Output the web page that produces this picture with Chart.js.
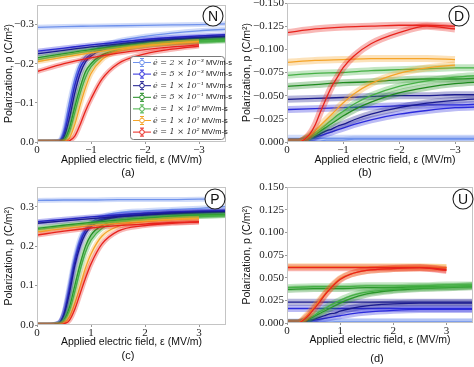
<!DOCTYPE html>
<html>
<head>
<meta charset="utf-8">
<script src="https://cdn.jsdelivr.net/npm/chart.js@4.4.1/dist/chart.umd.min.js"></script>
<style>
  html, body { margin: 0; padding: 0; background: #fff; width: 474px; height: 367px; overflow: hidden; }
  canvas { position: absolute; }
</style>
</head>
<body>
<canvas id="chartN" width="237" height="183" style="left:0;top:0"></canvas>
<canvas id="chartD" width="250" height="183" style="left:237px;top:0"></canvas>
<canvas id="chartP" width="237" height="184" style="left:0;top:183px"></canvas>
<canvas id="chartU" width="250" height="184" style="left:237px;top:183px"></canvas>
<script>
// loading rates (legend text), shared by all four panels
const rateLabels = ['2 × 10⁻³', '5 × 10⁻³', '1 × 10⁻¹', '5 × 10⁻¹', '1 × 10⁰', '1 × 10¹', '1 × 10²'];
const seriesColors = ['#6f92ec', '#2b2bdc', '#1b1b8e', '#1f8a1f', '#45b045', '#f5a428', '#e8231c'];

// applied field magnitude (MV/m) for the loading and unloading branches
const loadField = [0, 0.2, 0.4, 0.5, 0.6, 0.7, 0.8, 0.9, 1.0, 1.2, 1.5, 2.0, 2.5, 3.0, 3.5];
const unloadField = [0, 0.5, 1.0, 1.5, 2.0, 2.5, 3.0, 3.5];

// (a) N - polarization, C/m^2
const nLoad = [
  [0, 0, -0.002, -0.03, -0.1, -0.16, -0.2, -0.22, -0.232, -0.245, -0.258, -0.27, -0.278, -0.284, -0.288],
  [0, 0, -0.001, -0.02, -0.08, -0.145, -0.19, -0.212, -0.225, -0.238, -0.248, -0.258, -0.264, -0.268, -0.27],
  [0, 0, 0, -0.012, -0.06, -0.125, -0.175, -0.205, -0.22, -0.235, -0.245, -0.255, -0.261, -0.265, -0.268],
  [0, 0, 0, -0.005, -0.035, -0.09, -0.14, -0.18, -0.2, -0.222, -0.236, -0.247, -0.253, -0.257, -0.26],
  [0, 0, 0, -0.003, -0.025, -0.075, -0.125, -0.165, -0.192, -0.218, -0.235, -0.246, -0.252, -0.256, -0.258],
  [0, 0, 0, -0.001, -0.01, -0.045, -0.095, -0.14, -0.175, -0.21, -0.232, -0.245, -0.252, -0.256, null],
  [0, 0, 0, 0, -0.003, -0.015, -0.045, -0.08, -0.11, -0.16, -0.2, -0.225, -0.237, -0.245, null]
];
const nUnload = [
  [-0.293, -0.295, -0.296, -0.297, -0.298, -0.299, -0.3, -0.302],
  [-0.232, -0.24, -0.248, -0.255, -0.262, -0.267, -0.271, -0.274],
  [-0.225, -0.234, -0.243, -0.25, -0.257, -0.262, -0.266, -0.27],
  [-0.215, -0.226, -0.236, -0.244, -0.251, -0.256, -0.26, -0.263],
  [-0.21, -0.222, -0.233, -0.242, -0.249, -0.254, -0.258, -0.261],
  [-0.205, -0.217, -0.228, -0.238, -0.246, -0.252, -0.257, null],
  [-0.18, -0.2, -0.215, -0.227, -0.236, -0.243, -0.248, null]
];

// (b) D
const dLoad = [
  [0, 0, -0.001, -0.001, -0.001, -0.002, -0.002, -0.002, -0.002, -0.003, -0.003, -0.003, -0.003, -0.003, -0.003],
  [0, 0, -0.003, -0.005, -0.007, -0.009, -0.011, -0.013, -0.015, -0.019, -0.024, -0.03, -0.034, -0.037, -0.038],
  [0, 0, -0.004, -0.006, -0.009, -0.012, -0.014, -0.017, -0.019, -0.024, -0.03, -0.037, -0.042, -0.045, -0.047],
  [0, 0, -0.005, -0.008, -0.012, -0.016, -0.02, -0.024, -0.028, -0.035, -0.043, -0.053, -0.059, -0.063, -0.065],
  [0, 0, -0.006, -0.01, -0.014, -0.019, -0.024, -0.029, -0.033, -0.041, -0.05, -0.06, -0.066, -0.07, -0.072],
  [0, 0, -0.007, -0.012, -0.018, -0.024, -0.03, -0.036, -0.042, -0.052, -0.063, -0.074, -0.08, -0.083, null],
  [0, 0, -0.008, -0.018, -0.033, -0.047, -0.06, -0.07, -0.08, -0.093, -0.106, -0.118, -0.125, -0.122, null]
];
const dUnload = [
  [-0.004, -0.004, -0.004, -0.004, -0.004, -0.004, -0.004, -0.004],
  [-0.035, -0.036, -0.037, -0.038, -0.039, -0.04, -0.04, -0.041],
  [-0.046, -0.047, -0.048, -0.049, -0.05, -0.05, -0.051, -0.051],
  [-0.06, -0.062, -0.064, -0.065, -0.067, -0.068, -0.068, -0.069],
  [-0.072, -0.074, -0.075, -0.077, -0.078, -0.079, -0.08, -0.08],
  [-0.086, -0.088, -0.089, -0.09, -0.09, -0.09, -0.089, null],
  [-0.118, -0.122, -0.124, -0.125, -0.126, -0.126, -0.125, null]
];

// (c) P
const pLoad = [
  [0, 0, 0.003, 0.03, 0.1, 0.17, 0.22, 0.245, 0.26, 0.275, 0.285, 0.29, 0.293, 0.296, 0.3],
  [0, 0, 0.005, 0.03, 0.09, 0.16, 0.21, 0.24, 0.255, 0.268, 0.277, 0.283, 0.286, 0.288, 0.289],
  [0, 0, 0.004, 0.025, 0.08, 0.15, 0.2, 0.232, 0.25, 0.265, 0.274, 0.28, 0.284, 0.286, 0.287],
  [0, 0, 0.003, 0.012, 0.045, 0.1, 0.155, 0.2, 0.228, 0.252, 0.264, 0.271, 0.276, 0.279, 0.28],
  [0, 0, 0.002, 0.01, 0.035, 0.085, 0.14, 0.185, 0.215, 0.245, 0.26, 0.268, 0.273, 0.276, 0.278],
  [0, 0, 0.001, 0.005, 0.02, 0.055, 0.1, 0.145, 0.18, 0.225, 0.25, 0.262, 0.268, 0.271, null],
  [0, 0, 0, 0.003, 0.012, 0.04, 0.08, 0.12, 0.155, 0.205, 0.238, 0.252, 0.258, 0.261, null]
];
const pUnload = [
  [0.316, 0.317, 0.317, 0.318, 0.318, 0.318, 0.319, 0.319],
  [0.262, 0.268, 0.274, 0.279, 0.283, 0.286, 0.288, 0.29],
  [0.258, 0.264, 0.27, 0.275, 0.279, 0.282, 0.285, 0.287],
  [0.245, 0.253, 0.26, 0.266, 0.271, 0.275, 0.278, 0.28],
  [0.242, 0.25, 0.257, 0.263, 0.268, 0.272, 0.275, 0.278],
  [0.236, 0.245, 0.252, 0.258, 0.263, 0.267, 0.27, null],
  [0.228, 0.238, 0.246, 0.252, 0.256, 0.26, 0.262, null]
];

// (d) U
const uLoad = [
  [0, 0, 0, 0, 0, 0, 0, 0.001, 0.001, 0.001, 0.001, 0.001, 0.001, 0.001, 0.001],
  [0, 0, 0.002, 0.003, 0.004, 0.005, 0.006, 0.007, 0.008, 0.01, 0.012, 0.014, 0.015, 0.015, 0.015],
  [0, 0, 0.003, 0.004, 0.006, 0.008, 0.01, 0.011, 0.013, 0.016, 0.019, 0.021, 0.022, 0.022, 0.022],
  [0, 0, 0.004, 0.007, 0.01, 0.013, 0.016, 0.019, 0.022, 0.027, 0.032, 0.036, 0.038, 0.039, 0.04],
  [0, 0, 0.005, 0.008, 0.012, 0.015, 0.019, 0.022, 0.025, 0.03, 0.034, 0.037, 0.039, 0.04, 0.041],
  [0, 0, 0.01, 0.017, 0.024, 0.031, 0.038, 0.044, 0.049, 0.054, 0.058, 0.06, 0.061, 0.061, null],
  [0, 0, 0.008, 0.015, 0.022, 0.03, 0.037, 0.043, 0.048, 0.054, 0.058, 0.06, 0.061, 0.058, null]
];
const uUnload = [
  [0.001, 0.001, 0.001, 0.001, 0.001, 0.001, 0.001, 0.001],
  [0.016, 0.016, 0.016, 0.016, 0.016, 0.016, 0.016, 0.016],
  [0.023, 0.023, 0.023, 0.023, 0.023, 0.023, 0.023, 0.023],
  [0.037, 0.038, 0.038, 0.039, 0.039, 0.04, 0.04, 0.041],
  [0.039, 0.04, 0.04, 0.041, 0.041, 0.041, 0.042, 0.042],
  [0.062, 0.062, 0.062, 0.062, 0.062, 0.062, 0.061, null],
  [0.061, 0.061, 0.061, 0.061, 0.061, 0.061, 0.059, null]
];

function rgba(hex, a) {
  const n = parseInt(hex.slice(1), 16);
  return `rgba(${n >> 16},${(n >> 8) & 255},${n & 255},${a})`;
}

// later rates are drawn on top (lower "order" is drawn last in Chart.js)
function buildDatasets(load, unload, sign, band) {
  const ds = [];
  seriesColors.forEach((c, i) => {
    [[loadField, load[i]], [unloadField, unload[i]]].forEach(([field, vals]) => {
      const pts = field.map((f, k) => ({ x: sign * f, y: vals[k] }));
      ds.push({ data: pts, borderColor: rgba(c, 0.32), borderWidth: band, pointRadius: 0,
                cubicInterpolationMode: 'monotone', order: 100 - i * 2 });
      ds.push({ data: pts, borderColor: c, borderWidth: 1.3, pointRadius: 0,
                cubicInterpolationMode: 'monotone', order: 99 - i * 2 });
    });
  });
  return ds;
}

const fmt = dec => v => (Math.abs(v) < 1e-9 ? 0 : v).toFixed(dec).replace('-', '\u2212');

// gray frame round the plot area
const framePlugin = {
  id: 'frame',
  afterDatasetsDraw(chart) {
    const { ctx, chartArea: a } = chart;
    ctx.save();
    ctx.strokeStyle = '#c4c4c4';
    ctx.lineWidth = 1;
    ctx.strokeRect(a.left + 0.5, a.top + 0.5, a.right - a.left - 1, a.bottom - a.top - 1);
    ctx.restore();
  }
};

// circled letter, (a)-(d) caption and the in-plot legend of panel (a)
const decoPlugin = {
  id: 'deco',
  afterDraw(chart, args, o) {
    const ctx = chart.ctx;
    ctx.save();
    ctx.beginPath();
    ctx.arc(o.cx, o.cy, 10, 0, Math.PI * 2);
    ctx.fillStyle = '#fff';
    ctx.fill();
    ctx.strokeStyle = '#222';
    ctx.lineWidth = 1.1;
    ctx.stroke();
    ctx.fillStyle = '#111';
    ctx.font = '14px "Liberation Sans"';
    ctx.textAlign = 'center';
    ctx.textBaseline = 'middle';
    ctx.fillText(o.letter, o.cx, o.cy + 1);
    ctx.font = '11px "Liberation Sans"';
    ctx.fillText(o.caption, o.capX, o.capY);
    if (o.legend) drawLegend(ctx, o.legend);
    ctx.restore();
  }
};

function drawLegend(ctx, L) {
  ctx.beginPath();
  ctx.roundRect(L.x + 0.5, L.y + 0.5, L.w, L.h, 3);
  ctx.fillStyle = 'rgba(255,255,255,0.92)';
  ctx.fill();
  ctx.strokeStyle = '#7a7a7a';
  ctx.lineWidth = 1;
  ctx.stroke();
  ctx.textAlign = 'left';
  ctx.textBaseline = 'middle';
  rateLabels.forEach((lab, i) => {
    const y = L.y + 6.5 + i * 11.6;
    const c = seriesColors[i];
    const mx = L.x + 12;
    ctx.strokeStyle = c;
    ctx.lineWidth = 1;
    ctx.beginPath();
    ctx.moveTo(L.x + 3, y); ctx.lineTo(L.x + 21, y);
    ctx.moveTo(mx, y - 4); ctx.lineTo(mx, y + 4);
    ctx.moveTo(mx - 2, y - 4); ctx.lineTo(mx + 2, y - 4);
    ctx.moveTo(mx - 2, y + 4); ctx.lineTo(mx + 2, y + 4);
    ctx.stroke();
    ctx.beginPath();
    ctx.arc(mx, y, 2.3, 0, Math.PI * 2);
    ctx.fillStyle = '#fff';
    ctx.fill();
    ctx.stroke();
    ctx.fillStyle = '#333';
    ctx.font = 'italic 8px "DejaVu Serif"';
    const t1 = 'ė = ' + lab;
    ctx.fillText(t1, L.x + 23, y);
    const w = ctx.measureText(t1).width;
    ctx.font = '7.5px "Liberation Sans"';
    ctx.fillStyle = '#111';
    ctx.fillText(' MV/m-s', L.x + 23 + w, y);
  });
}

const tickFont = { family: 'Liberation Serif', size: 11 };
const titleFont = { family: 'Liberation Sans', size: 10.5 };

function makeChart(id, p) {
  const neg = p.sign < 0;
  new Chart(document.getElementById(id), {
    type: 'line',
    data: { datasets: buildDatasets(p.load, p.unload, p.sign, p.band) },
    plugins: [framePlugin, decoPlugin],
    options: {
      responsive: false,
      animation: false,
      layout: { padding: p.pad },
      plugins: { legend: { display: false }, tooltip: { enabled: false }, deco: p.deco },
      scales: {
        x: {
          type: 'linear',
          min: neg ? -3.5 : 0, max: neg ? 0 : 3.5, reverse: neg,
          ticks: { stepSize: 1, includeBounds: false, autoSkip: false, callback: fmt(0), font: tickFont,
                   color: '#222', padding: 0, maxRotation: 0 },
          grid: { drawOnChartArea: false, tickLength: 2, color: '#999' },
          border: { display: false },
          title: { display: true, text: 'Applied electric field, ε (MV/m)', font: titleFont, color: '#111',
                   padding: { top: 0, bottom: 0 } },
          afterFit: s => { s.height = p.xH; s.paddingLeft = 0; s.paddingRight = 0; }
        },
        y: {
          min: neg ? -p.yMax : 0, max: neg ? 0 : p.yMax, reverse: neg,
          ticks: { stepSize: p.yStep, includeBounds: false, autoSkip: false, callback: fmt(p.yDec),
                   font: tickFont, color: '#222', padding: 1 },
          grid: { drawOnChartArea: false, tickLength: 2, color: '#999' },
          border: { display: false },
          title: { display: true, text: 'Polarization, p (C/m²)', font: titleFont, color: '#111',
                   padding: { top: p.yTitlePad, bottom: 0 } },
          afterFit: s => { s.width = p.yW; s.paddingTop = 0; s.paddingBottom = 0; }
        }
      }
    }
  });
}

makeChart('chartN', {
  load: nLoad, unload: nUnload, sign: -1, band: 5, yMax: 0.35, yStep: 0.1, yDec: 1,
  pad: { top: 5, right: 11, left: 0, bottom: 17 }, xH: 24, yW: 37, yTitlePad: 3,
  deco: { letter: 'N', cx: 213, cy: 16, caption: '(a)', capX: 128, capY: 173,
          legend: { x: 130, y: 56, w: 94, h: 83 } }
});
makeChart('chartD', {
  load: dLoad, unload: dUnload, sign: -1, band: 7, yMax: 0.15, yStep: 0.025, yDec: 3,
  pad: { top: 3, right: 4, left: 0, bottom: 17 }, xH: 24, yW: 50, yTitlePad: 4,
  deco: { letter: 'D', cx: 222, cy: 16, caption: '(b)', capX: 128, capY: 173 }
});
makeChart('chartP', {
  load: pLoad, unload: pUnload, sign: 1, band: 5, yMax: 0.35, yStep: 0.1, yDec: 1,
  pad: { top: 4, right: 11, left: 0, bottom: 19 }, xH: 23, yW: 37, yTitlePad: 3,
  deco: { letter: 'P', cx: 215, cy: 16, caption: '(c)', capX: 128, capY: 173 }
});
makeChart('chartU', {
  load: uLoad, unload: uUnload, sign: 1, band: 7, yMax: 0.15, yStep: 0.025, yDec: 3,
  pad: { top: 4, right: 14, left: 0, bottom: 21 }, xH: 23, yW: 50, yTitlePad: 4,
  deco: { letter: 'U', cx: 226, cy: 16, caption: '(d)', capX: 140, capY: 176 }
});
</script>
</body>
</html>
